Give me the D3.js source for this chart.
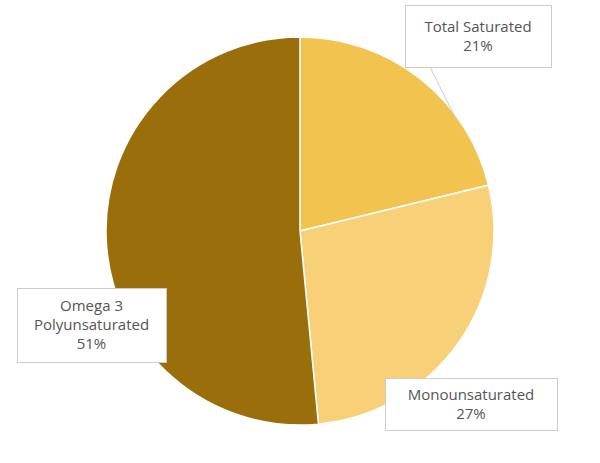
<!DOCTYPE html>
<meta charset="utf-8">
<html>
<style>
  body, html { margin: 0; background: #fff; }
  .lbl text { font-family: "Open Sans", sans-serif; font-size: 15px; fill: #555; }
  .lbl rect { fill: #fff; stroke: #ccc; stroke-width: 1; }
  .lead { stroke: #ccc; fill: none; }
</style>
<body>
<svg></svg>
<script src="https://cdn.jsdelivr.net/npm/d3@7"></script>
<script>
var categories = ['Total Saturated', 'Monounsaturated', 'Omega 3 Polyunsaturated']
var values = [21, 27, 51]
var colors = ['#F2C44F', '#F7D078', '#9A6E0A']
var labelLines = [['Total Saturated', '21%'], ['Monounsaturated', '27%'], ['Omega 3', 'Polyunsaturated', '51%']]
// label box placement (x, y, w, h) and where the leader meets the box
var boxes = [[405, 5, 146, 62], [385, 378, 172, 52], [17, 288, 149, 74]]
var leadAngle = [0.95, 2.6, 4.38]

var w = 600, h = 463, cx = 300, cy = 231, r = 194
var svg = d3.select('svg').attr('width', w).attr('height', h)
var g = svg.append('g').attr('transform', 'translate(' + cx + ',' + cy + ')')

var pie = d3.pie().sort(null).value(function(d){ return d })
var arc = d3.arc().innerRadius(0).outerRadius(r)

g.selectAll('path.slice').data(pie(values)).enter().append('path')
  .attr('class', 'slice')
  .attr('d', arc)
  .attr('fill', function(d, i){ return colors[i] })
  .attr('stroke', '#fff').attr('stroke-width', 1.5)

// leaders from the arc edge to the boxes
boxes.forEach(function(b, i){
  var a = leadAngle[i]
  var px = cx + Math.sin(a) * (r - 2), py = cy - Math.cos(a) * (r - 2)
  var tx, ty
  if (i === 0) { tx = 430; ty = b[1] + b[3] }
  else if (i === 1) { tx = px; ty = b[1] }
  else { tx = px; ty = b[1] }
  svg.append('path').attr('class', 'lead')
    .attr('d', 'M' + px + ',' + py + 'L' + tx + ',' + ty)
})

var lbl = svg.selectAll('g.lbl').data(boxes).enter().append('g').attr('class', 'lbl')
lbl.append('rect')
  .attr('x', function(d){ return d[0] + 0.5 }).attr('y', function(d){ return d[1] + 0.5 })
  .attr('width', function(d){ return d[2] }).attr('height', function(d){ return d[3] })
lbl.each(function(d, i){
  var lines = labelLines[i], n = lines.length
  var t = d3.select(this).append('text').attr('text-anchor', 'middle')
  lines.forEach(function(s, j){
    t.append('tspan').attr('x', d[0] + d[2] / 2)
      .attr('y', d[1] + d[3] / 2 + (j - (n - 1) / 2) * 19 + 5).text(s)
  })
})
</script>
</body>
</html>
